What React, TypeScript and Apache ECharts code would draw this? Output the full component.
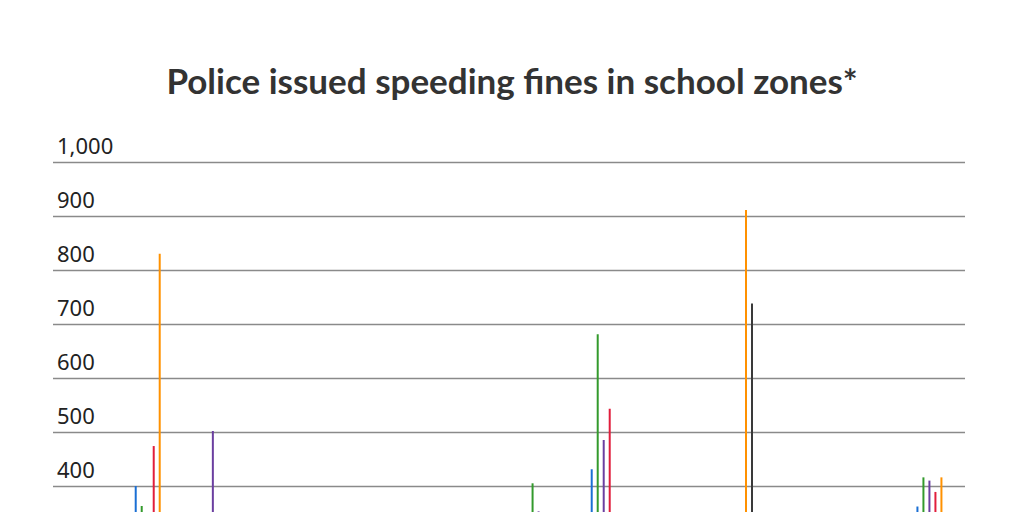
import React, { useEffect, useRef } from "react";
import * as echarts from "echarts";

const TITLE = "Police issued speeding fines in school zones*";

const categories = ["1", "2", "3", "4", "5", "6", "7", "8", "9", "10", "11", "12", "13", "14"];

const seriesNames = ["Series A", "Series B", "Series C", "Series D", "Series E", "Series F"];
const seriesColors = ["#1a6fd4", "#339a2c", "#6b3fa0", "#e11d3c", "#ff9100", "#3a3a3a"];

// values; bars hidden below the crop are estimates
const seriesA = [250, 400, 310, 180, 220, 260, 290, 300, 431, 240, 300, 210, 190, 362];
const seriesB = [230, 363, 280, 200, 240, 300, 320, 405, 681, 330, 250, 230, 300, 416];
const seriesC = [200, 330, 502, 170, 210, 250, 280, 353, 485, 290, 320, 200, 260, 410];
const seriesD = [270, 474, 320, 190, 230, 280, 300, 310, 543, 320, 330, 240, 290, 389];
const seriesE = [300, 830, 340, 220, 260, 310, 330, 340, 335, 320, 911, 270, 310, 416];
const seriesF = [180, 290, 260, 150, 190, 230, 250, 270, 300, 260, 738, 210, 240, 330];

const yTicks = { min: 0, max: 1000, interval: 100 };
const firstVisibleTick = 400;

export default function App() {
  const ref = useRef<HTMLDivElement>(null);
  useEffect(() => {
    document.body.style.margin = "0";
    if (!ref.current) return;
    const chart = echarts.init(ref.current, undefined, { renderer: "svg" });
    const data = [seriesA, seriesB, seriesC, seriesD, seriesE, seriesF];
    chart.setOption({
      animation: false,
      backgroundColor: "#ffffff",
      title: {
        text: TITLE,
        left: "center",
        top: 57,
        textStyle: {
          fontFamily: "Lato",
          fontWeight: "bold",
          fontSize: 35,
          color: "#333333",
        },
      },
      grid: { left: 53, right: 59, top: 162, bottom: 58, containLabel: false },
      xAxis: {
        type: "category",
        data: categories,
        axisLine: { show: false },
        axisTick: { show: false },
        axisLabel: { show: false },
      },
      yAxis: {
        type: "value",
        min: yTicks.min,
        max: yTicks.max,
        interval: yTicks.interval,
        axisLine: { show: false },
        axisTick: { show: false },
        splitLine: { lineStyle: { color: "#8a8a8a", width: 1.3 } },
        axisLabel: {
          inside: true,
          margin: 4,
          verticalAlign: "bottom",
          padding: [0, 0, 6, 0],
          fontFamily: "Noto Sans",
          fontSize: 22,
          color: "#222222",
          formatter: (v: number) => (v >= firstVisibleTick ? v.toLocaleString("en-US") : ""),
        },
      },
      series: data.map((d, i) => ({
        name: seriesNames[i],
        type: "bar",
        data: d,
        barWidth: 2,
        barGap: "200%",
        itemStyle: { color: seriesColors[i] },
      })),
    });
    return () => chart.dispose();
  }, []);
  return <div ref={ref} style={{ width: 1024, height: 760 }} />;
}
